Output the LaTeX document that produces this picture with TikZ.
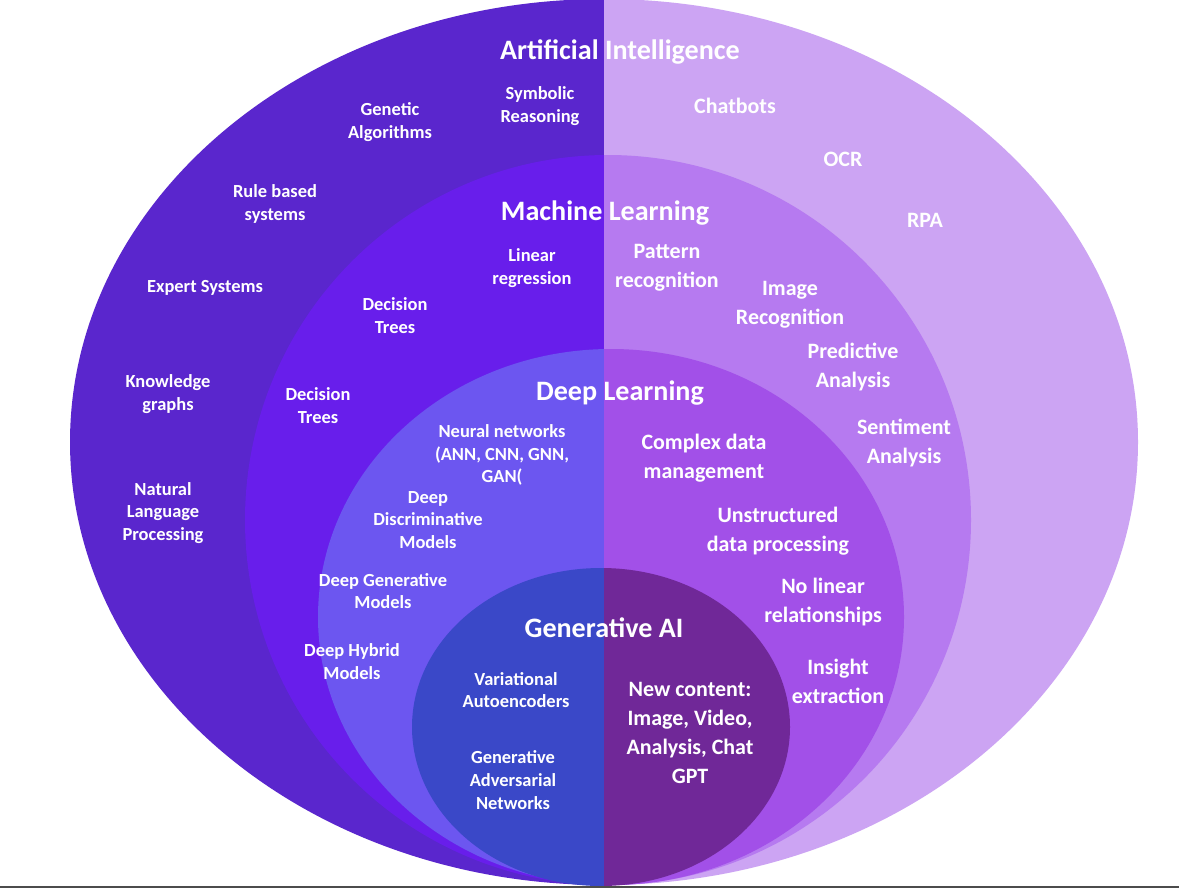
\documentclass[tikz,border=0pt]{standalone}
\usepackage{fontspec}
\setmainfont{Carlito}
\begin{document}
\begin{tikzpicture}[x=0.02cm,y=-0.02cm,
  lb/.style={text=white,font=\bfseries\fontsize{10.5}{13}\selectfont,align=center},
  lm/.style={text=white,font=\bfseries\fontsize{12.5}{16.5}\selectfont,align=center},
  tt/.style={text=white,font=\bfseries\fontsize{16}{19}\selectfont}]
\useasboundingbox (0,0) rectangle (1179,892);
\fill[white] (0,0) rectangle (1179,892);
\begin{scope}
\clip (0,0) rectangle (604,886);
\fill[fill={rgb,255:red,90;green,38;blue,205}] (604,442) ellipse [x radius=534,y radius=443];
\fill[fill={rgb,255:red,104;green,30;blue,235}] (608,520) ellipse [x radius=363,y radius=365];
\fill[fill={rgb,255:red,108;green,86;blue,240}] (611,617) ellipse [x radius=293,y radius=268];
\fill[fill={rgb,255:red,58;green,72;blue,200}] (601,727) ellipse [x radius=189,y radius=159];
\end{scope}
\begin{scope}
\clip (604,0) rectangle (1179,886);
\fill[fill={rgb,255:red,204;green,164;blue,243}] (604,442) ellipse [x radius=534,y radius=443];
\fill[fill={rgb,255:red,182;green,122;blue,240}] (608,520) ellipse [x radius=363,y radius=365];
\fill[fill={rgb,255:red,162;green,80;blue,232}] (611,617) ellipse [x radius=293,y radius=268];
\fill[fill={rgb,255:red,112;green,40;blue,152}] (601,727) ellipse [x radius=189,y radius=159];
\end{scope}
\draw[line width=1.5pt,gray!60!black] (0,887) -- (1179,887);
\node[tt] (ai) at (620,52) {Artificial Intelligence};
\node[lb] (ga) at (390,122) {Genetic\\Algorithms};
\node[lb] (sr) at (540,106) {Symbolic\\Reasoning};
\node[lb] (rb) at (275,204) {Rule based\\systems};
\node[lb] (es) at (205,288) {Expert Systems};
\node[lb] (kg) at (168,394) {Knowledge\\graphs};
\node[lb] (nl) at (163,513) {Natural\\Language\\Processing};
\node[lm] (cb) at (735,106) {Chatbots};
\node[lm] (ocr) at (843,159) {OCR};
\node[lm] (rpa) at (925,220) {RPA};
\node[tt] (ml) at (605,213) {Machine Learning};
\node[lb] (lr) at (532,268) {Linear\\regression};
\node[lb] (dt1) at (395,316) {Decision\\Trees};
\node[lb] (dt2) at (318,406) {Decision\\Trees};
\node[lm] (pr) at (667,268) {Pattern\\recognition};
\node[lm] (ir) at (790,305) {Image\\Recognition};
\node[lm] (pa) at (853,367) {Predictive\\Analysis};
\node[lm] (sa) at (904,443) {Sentiment\\Analysis};
\node[tt] (dl) at (620,393) {Deep Learning};
\node[lb] (nn) at (502,455) {Neural networks\\(ANN, CNN, GNN,\\GAN(};
\node[lb] (ddm) at (428,520) {Deep\\Discriminative\\Models};
\node[lb] (dgm) at (383,591) {Deep Generative\\Models};
\node[lb] (dhm) at (352,662) {Deep Hybrid\\Models};
\node[lm] (cdm) at (704,458) {Complex data\\management};
\node[lm] (udp) at (778,531) {Unstructured\\data processing};
\node[lm] (nlr) at (823,602) {No linear\\relationships};
\node[lm] (ie) at (838,681) {Insight\\extraction};
\node[tt] (gai) at (604,628) {Generative AI};
\node[lb] (va) at (516,690) {Variational\\Autoencoders};
\node[lb] (gan) at (513,780) {Generative\\Adversarial\\Networks};
\node[lm] (nc) at (690,733) {New content:\\Image, Video,\\Analysis, Chat\\GPT};
\end{tikzpicture}
\end{document}
